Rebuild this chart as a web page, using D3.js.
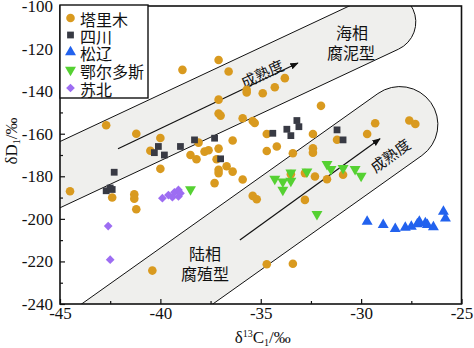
<!DOCTYPE html>
<html>
<head>
<meta charset="utf-8">
<script src="https://d3js.org/d3.v7.min.js"></script>
<style>
  body { margin: 0; background: #fff; }
  text { fill: #111; }
</style>
</head>
<body>
<svg width="474" height="348"></svg>
<script>
// δ13C1 (x) vs δD1 (y) per basin
const tarim = [
  [-44.5,-187],[-42.7,-156],[-41.2,-160],[-40.0,-162],[-40.5,-168],[-40.0,-176.5],
  [-42.4,-190],[-41.3,-188.5],[-41.3,-190.5],[-41.2,-195.5],[-38.5,-170],[-38.2,-172],
  [-38.1,-164.2],[-37.8,-168.4],[-37.6,-167.8],[-37.1,-144],[-37.1,-150.5],[-37.0,-151.5],
  [-36.4,-163.2],[-37.1,-167],[-37.2,-172],[-37.1,-177],[-37.1,-178.5],[-36.7,-175.3],
  [-36.4,-177.8],[-37.3,-183.2],[-35.9,-181.5],[-40.4,-224.3],[-38.9,-130],[-37.1,-125.4],
  [-36.6,-130.8],[-35.9,-152.7],[-35.4,-154],[-35.3,-155],[-35.7,-140.6],[-35.7,-139.4],
  [-34.9,-141],[-34.3,-138.2],[-33.8,-133.9],[-32.0,-146.9],[-29.3,-155.1],[-27.6,-153.8],
  [-27.3,-155.4],[-35.4,-189.2],[-35.2,-190.8],[-34.7,-160.1],[-34.7,-168.1],[-34.2,-166],
  [-33.4,-169.2],[-33.5,-179],[-32.4,-160.1],[-32.4,-166.8],[-32.4,-168.9],[-31.2,-162.8],
  [-32.3,-180.1],[-32.8,-178.5],[-31.7,-181.4],[-30.9,-179.3],[-32.8,-191.1],[-29.7,-160.1],
  [-34.7,-221.3],[-33.4,-221.1]
];
const sichuan = [
  [-42.7,-186.8],[-42.4,-186.2],[-42.5,-185.5],[-42.3,-178.1],[-40.3,-168.9],[-40.1,-166],
  [-39.8,-170],[-39.0,-166],[-38.3,-162.9],[-37.3,-162.1],[-37.0,-171.8],[-34.4,-159.8],
  [-33.7,-157.9],[-33.5,-160.9],[-33.2,-153.8],[-33.1,-156.7],[-31.2,-158.2],[-30.9,-162.9]
];
const songliao = [
  [-29.7,-201.3],[-28.9,-202.8],[-28.3,-204.7],[-27.8,-204.1],[-27.5,-203.6],[-27.2,-202.5],
  [-27.1,-201.3],[-26.8,-202],[-26.7,-202.8],[-26.4,-203.9],[-25.9,-196.6],[-25.8,-199.7]
];
const ordos = [
  [-34.3,-181.2],[-33.9,-182.5],[-33.5,-182.2],[-33.9,-186.4],[-33.5,-178.3],[-32.7,-177.8],
  [-31.7,-174.3],[-31.5,-176.7],[-30.9,-176.2],[-30.3,-176.7],[-30.0,-179.8],[-32.2,-197.8],
  [-38.5,-186.2]
];
const subei = [
  [-39.9,-190.3],[-39.6,-188.8],[-39.3,-187.5],[-39.1,-186.4],[-39.1,-189.5],[-39.4,-189.8],
  [-39.0,-188],[-42.6,-203.4],[-42.5,-219.2]
];

const xTicks = [-45, -40, -35, -30, -25];
const yTicks = [-240, -220, -200, -180, -160, -140, -120, -100];

// kerogen-type zones: axis from start to rounded end, and the maturity arrows
const zoneMarine = { from: [-48, -192.5], to: [-28.77, -107.5] };
const zoneTerr = { from: [-43, -255.7], to: [-28.07, -155.7] };
const arrowMarine = { from: [-42.11, -167.1], to: [-33.15, -126.8] };
const arrowTerr = { from: [-36.04, -209.9], to: [-29.06, -162.4] };

const svg = d3.select("svg");
const pLeft = 60, pRight = 461.5, pTop = 6, pBottom = 304;

const x = d3.scaleLinear().domain([-45, -25]).range([pLeft, pRight]);
const y = d3.scaleLinear().domain([-240, -100]).range([pBottom, pTop]);

const defs = svg.append("defs");
defs.append("clipPath").attr("id", "plot")
  .append("rect").attr("x", pLeft).attr("y", pTop)
  .attr("width", pRight - pLeft).attr("height", pBottom - pTop);

const bg = svg.append("g").attr("clip-path", "url(#plot)");

function stadium(zone, w) {
  const p0 = [x(zone.from[0]), y(zone.from[1])];
  const p1 = [x(zone.to[0]), y(zone.to[1])];
  const len = Math.hypot(p1[0] - p0[0], p1[1] - p0[1]);
  const u = [(p1[0] - p0[0]) / len, (p1[1] - p0[1]) / len];
  const n = [u[1], -u[0]];
  const a = [p0[0] + w * n[0], p0[1] + w * n[1]];
  const b = [p1[0] + w * n[0], p1[1] + w * n[1]];
  const c = [p1[0] - w * n[0], p1[1] - w * n[1]];
  const d = [p0[0] - w * n[0], p0[1] - w * n[1]];
  return `M${a}L${b}A${w},${w} 0 0 1 ${c}L${d}Z`;
}

bg.append("path").attr("d", stadium(zoneMarine, 30))
  .attr("fill", "#efefed").attr("stroke", "#111").attr("stroke-width", 1);
bg.append("path").attr("d", stadium(zoneTerr, 38))
  .attr("fill", "#efefed").attr("stroke", "#111").attr("stroke-width", 1);

defs.append("marker")
  .attr("id", "head").attr("viewBox", "0 0 10 10")
  .attr("refX", 9).attr("refY", 5)
  .attr("markerWidth", 7).attr("markerHeight", 7)
  .attr("orient", "auto")
  .append("path").attr("d", "M0,1L10,5L0,9Z").attr("fill", "#111");

[arrowMarine, arrowTerr].forEach(a => {
  bg.append("line")
    .attr("x1", x(a.from[0])).attr("y1", y(a.from[1]))
    .attr("x2", x(a.to[0])).attr("y2", y(a.to[1]))
    .attr("stroke", "#111").attr("stroke-width", 1.2)
    .attr("marker-end", "url(#head)");
});

const cjk = "'Noto Sans CJK SC', sans-serif";

function label(txt, dx, dy, size, rot) {
  svg.append("text")
    .attr("transform", `translate(${x(dx)},${y(dy)}) rotate(${rot || 0})`)
    .attr("text-anchor", "middle").attr("dominant-baseline", "central")
    .style("font-family", cjk).style("font-size", size + "px")
    .text(txt);
}
label("海相", -30.46, -112.2, 16);
label("腐泥型", -30.51, -121.6, 16);
label("陆相", -37.78, -216, 16);
label("腐殖型", -37.78, -225.4, 16);
label("成熟度", -34.94, -131.5, 15, -25);
label("成熟度", -28.57, -170, 15, -36);

// data marks
const series = [
  { name: "塔里木", pts: tarim, color: "#d99a1f", shape: d3.symbolCircle, size: 58, rot: 0 },
  { name: "四川", pts: sichuan, color: "#383a44", shape: d3.symbolSquare, size: 46, rot: 0 },
  { name: "松辽", pts: songliao, color: "#2262ee", shape: d3.symbolTriangle, size: 52, rot: 0 },
  { name: "鄂尔多斯", pts: ordos, color: "#55d132", shape: d3.symbolTriangle, size: 52, rot: 180 },
  { name: "苏北", pts: subei, color: "#9d6df2", shape: d3.symbolSquare, size: 38, rot: 45 }
];

series.forEach(s => {
  svg.append("g").selectAll("path").data(s.pts).join("path")
    .attr("d", d3.symbol().type(s.shape).size(s.size))
    .attr("transform", d => `translate(${x(d[0])},${y(d[1])}) rotate(${s.rot})`)
    .attr("fill", s.color);
});

// axes
const axisFont = "'Liberation Serif', 'Times New Roman', serif";

svg.append("g").attr("transform", `translate(0,${pBottom})`)
  .call(d3.axisBottom(x).tickValues(xTicks).tickSize(-5).tickPadding(3).tickFormat(d => String(d)));
svg.append("g").attr("transform", `translate(0,${pBottom})`)
  .call(d3.axisBottom(x).tickValues(d3.range(-42.5, -25, 5)).tickSize(-3).tickFormat(""));

svg.append("g").attr("transform", `translate(${pLeft},0)`)
  .call(d3.axisLeft(y).tickValues(yTicks).tickSize(-5).tickPadding(7).tickFormat(d => String(d)));
svg.append("g").attr("transform", `translate(${pLeft},0)`)
  .call(d3.axisLeft(y).tickValues(d3.range(-230, -100, 20)).tickSize(-3).tickFormat(""));

svg.selectAll(".domain").remove();
svg.selectAll(".tick line").attr("stroke", "#111").attr("stroke-width", 1.2);
svg.selectAll(".tick text").style("font-family", axisFont).style("font-size", "17px").attr("fill", "#111");

svg.append("rect")
  .attr("x", pLeft).attr("y", pTop).attr("width", pRight - pLeft).attr("height", pBottom - pTop)
  .attr("fill", "none").attr("stroke", "#111").attr("stroke-width", 1.6);

// axis titles
const xt = svg.append("text")
  .attr("x", (pLeft + pRight) / 2 + 2).attr("y", 343)
  .attr("text-anchor", "middle")
  .style("font-family", axisFont).style("font-size", "17px");
xt.append("tspan").text("δ");
xt.append("tspan").attr("dy", -6).style("font-size", "10px").text("13");
xt.append("tspan").attr("dy", 6).text("C");
xt.append("tspan").attr("dy", 3).style("font-size", "10px").text("1");
xt.append("tspan").attr("dy", -3).text("/‰");

const yt = svg.append("text")
  .attr("transform", "translate(17,141) rotate(-90)")
  .attr("text-anchor", "middle")
  .style("font-family", axisFont).style("font-size", "17px");
yt.append("tspan").text("δD");
yt.append("tspan").attr("dy", 3).style("font-size", "10px").text("1");
yt.append("tspan").attr("dy", -3).text("/‰");

// legend
const lg = svg.append("g");
lg.append("rect").attr("x", pLeft).attr("y", pTop - 1).attr("width", 88).attr("height", 93)
  .attr("fill", "#fff").attr("stroke", "#111").attr("stroke-width", 1.4);
const rowY = [18, 35, 52, 70, 88];
series.forEach((s, i) => {
  lg.append("path")
    .attr("d", d3.symbol().type(s.shape).size(s.size))
    .attr("transform", `translate(${pLeft + 10.5},${rowY[i]}) rotate(${s.rot})`)
    .attr("fill", s.color);
  lg.append("text")
    .attr("x", pLeft + 20).attr("y", rowY[i] + 1)
    .attr("dominant-baseline", "central")
    .style("font-family", cjk).style("font-size", "16px")
    .text(s.name);
});
</script>
</body>
</html>
